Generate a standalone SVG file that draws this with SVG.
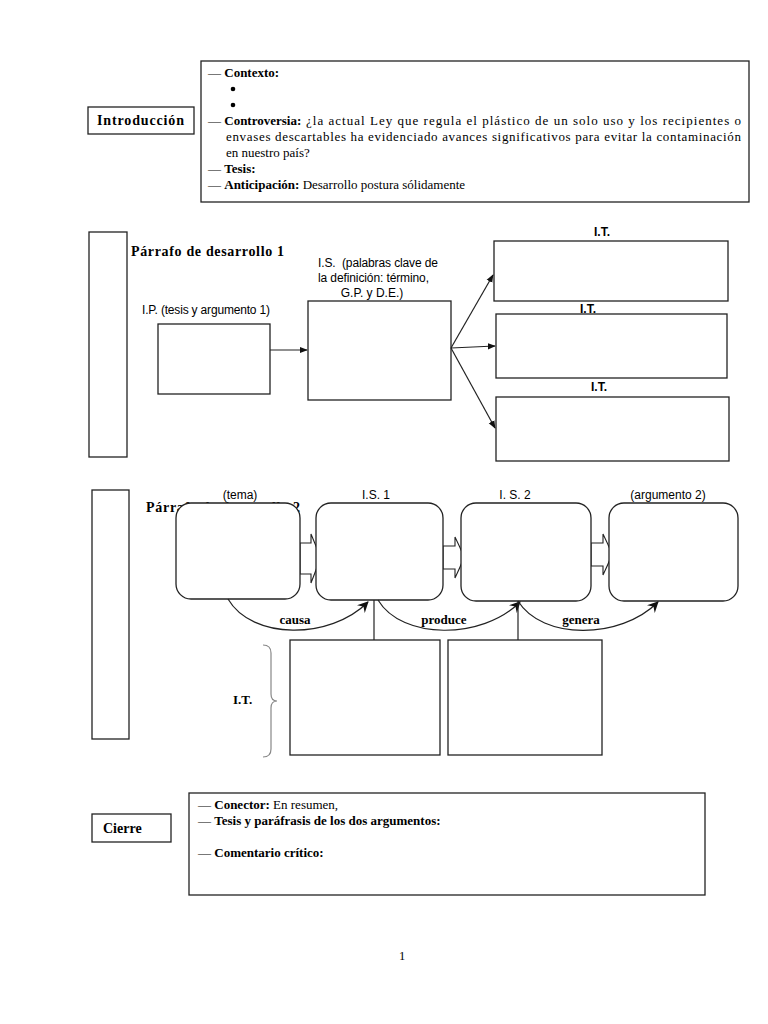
<svg xmlns="http://www.w3.org/2000/svg" width="768" height="1024" viewBox="0 0 768 1024">
<style>
.box{fill:#fff;stroke:#222;stroke-width:1.3}
.rbox{fill:#fff;stroke:#222;stroke-width:1.3}
.serif{font-family:"Liberation Serif","Times New Roman",serif;fill:#000}
.sans{font-family:"Liberation Sans",Arial,sans-serif;fill:#000}
.b{font-weight:bold}
.t{font-size:13px}
.lbl{font-size:12px}
.h{font-size:14px;font-weight:bold}
.ln{fill:none;stroke:#222;stroke-width:1.2}
.blk{fill:#fff;stroke:#222;stroke-width:1.1}
</style>
<defs>
<marker id="tri" viewBox="0 0 10 10" refX="9" refY="5" markerWidth="8" markerHeight="8" markerUnits="userSpaceOnUse" orient="auto">
<path d="M0,1 L10,5 L0,9 Z" fill="#111"/>
</marker>
<marker id="barb" viewBox="0 0 12 12" refX="11" refY="6" markerWidth="11" markerHeight="11" markerUnits="userSpaceOnUse" orient="auto">
<path d="M0,0 L12,6 L0,12 L4,6 Z" fill="#111"/>
</marker>
</defs>
<rect width="768" height="1024" fill="#fff"/>

<g id="introduccion">
<rect class="box" x="88" y="107" width="106" height="27"/>
<text class="serif h" x="97" y="125" textLength="87">Introducción</text>
</g>

<g id="intro-content">
<rect class="box" x="201" y="61" width="548" height="141"/>
<text class="serif t" x="208" y="77">— <tspan class="b">Contexto:</tspan></text>
<circle cx="233" cy="89" r="2.3" fill="#000"/>
<circle cx="233" cy="105" r="2.3" fill="#000"/>
<text class="serif t" x="208" y="125">— <tspan class="b">Controversia:</tspan></text>
<text class="serif t" x="306" y="125" textLength="435" lengthAdjust="spacing">¿la actual Ley que regula el plástico de un solo uso y los recipientes o</text>
<text class="serif t" x="226" y="141" textLength="515" lengthAdjust="spacing">envases descartables ha evidenciado avances significativos para evitar la contaminación</text>
<text class="serif t" x="226" y="157">en nuestro país?</text>
<text class="serif t" x="208" y="173">— <tspan class="b">Tesis:</tspan></text>
<text class="serif t" x="208" y="189">— <tspan class="b">Anticipación:</tspan> Desarrollo postura sólidamente</text>
</g>

<g id="parrafo1">
<rect class="box" x="89" y="232" width="38" height="225"/>
<text class="serif h" x="131" y="256" textLength="153">Párrafo de desarrollo 1</text>
</g>

<g id="ip">
<text class="sans lbl" x="142" y="314" textLength="128">I.P. (tesis y argumento 1)</text>
<rect class="box" x="158" y="324" width="112" height="70"/>
</g>

<g id="is">
<text class="sans lbl" x="318" y="267" textLength="120" xml:space="preserve">I.S.  (palabras clave de</text>
<text class="sans lbl" x="318" y="282" textLength="111">la definición: término,</text>
<text class="sans lbl" x="372" y="297" text-anchor="middle">G.P. y D.E.)</text>
<rect class="box" x="308" y="301" width="143" height="99"/>
</g>

<g id="it1">
<text class="sans lbl b" x="602" y="236" text-anchor="middle">I.T.</text>
<rect class="box" x="494" y="241" width="234" height="60"/>
</g>
<g id="it2">
<text class="sans lbl b" x="588" y="313" text-anchor="middle">I.T.</text>
<rect class="box" x="496" y="314" width="231" height="64"/>
</g>
<g id="it3">
<text class="sans lbl b" x="599" y="391" text-anchor="middle">I.T.</text>
<rect class="box" x="496" y="397" width="233" height="64"/>
</g>

<g id="parrafo2">
<rect class="box" x="92" y="490" width="37" height="249"/>
<text class="serif h" x="146" y="512" textLength="154">Párrafo de desarrollo 2</text>
</g>

<g id="block-arrows">
<path class="blk" d="M300,543 H311 V534 Q316,545 320,558 Q316,571 311,583 V574 H300 Z"/>
<path class="blk" d="M443,546 H455 V537 Q460,547 464,557 Q460,568 455,578 V569 H443 Z"/>
<path class="blk" d="M591,543 H603 V534 Q608,544 612,554 Q608,565 603,575 V566 H591 Z"/>
</g>

<g id="tema">
<text class="sans lbl" x="240" y="499" text-anchor="middle">(tema)</text>
<rect class="rbox" x="176" y="503" width="124" height="96" rx="15"/>
</g>
<g id="is1">
<text class="sans lbl" x="376" y="499" text-anchor="middle">I.S. 1</text>
<rect class="rbox" x="316" y="503" width="127" height="97" rx="15"/>
</g>
<g id="is2">
<text class="sans lbl" x="515" y="499" text-anchor="middle">I. S. 2</text>
<rect class="rbox" x="461" y="503" width="130" height="98" rx="15"/>
</g>
<g id="argumento2">
<text class="sans lbl" x="668" y="499" text-anchor="middle">(argumento 2)</text>
<rect class="rbox" x="609" y="503" width="129" height="98" rx="15"/>
</g>

<g id="it-a">
<rect class="box" x="290" y="640" width="150" height="115"/>
</g>
<g id="it-b">
<rect class="box" x="448" y="640" width="154" height="115"/>
</g>

<g id="it-brace">
<path d="M263,645 Q271,645 271,653 V694 Q271,701 277,701 Q271,701 271,708 V749 Q271,757 263,757" fill="none" stroke="#888" stroke-width="1.2"/>
<text class="serif b t" x="233" y="704">I.T.</text>
</g>

<g id="connectors">
<line class="ln" x1="270" y1="350" x2="307" y2="350" marker-end="url(#tri)"/>
<line class="ln" x1="451" y1="348" x2="493" y2="275" marker-end="url(#tri)"/>
<line class="ln" x1="451" y1="348" x2="495" y2="346" marker-end="url(#tri)"/>
<line class="ln" x1="451" y1="348" x2="495" y2="428" marker-end="url(#tri)"/>
<path class="ln" d="M228,599 C252,640 330,640 368,602" marker-end="url(#barb)"/>
<path class="ln" d="M378,600 C402,640 482,640 520,602" marker-end="url(#barb)"/>
<path class="ln" d="M518,601 C542,640 620,640 658,602" marker-end="url(#barb)"/>
<line class="ln" x1="374" y1="600" x2="374" y2="640"/>
<line class="ln" x1="518" y1="601" x2="518" y2="640"/>
<text class="serif b t" x="295" y="624" text-anchor="middle">causa</text>
<text class="serif b t" x="444" y="624" text-anchor="middle">produce</text>
<text class="serif b t" x="581" y="624" text-anchor="middle">genera</text>
</g>

<g id="cierre">
<rect class="box" x="92" y="814" width="79" height="28"/>
<text class="serif h" x="103" y="833">Cierre</text>
</g>

<g id="cierre-content">
<rect class="box" x="189" y="793" width="516" height="102"/>
<text class="serif t" x="198" y="809">— <tspan class="b">Conector:</tspan> En resumen,</text>
<text class="serif t" x="198" y="825">— <tspan class="b">Tesis y paráfrasis de los dos argumentos:</tspan></text>
<text class="serif t" x="198" y="857">— <tspan class="b">Comentario crítico:</tspan></text>
</g>

<text class="serif" x="402" y="960" font-size="12.5" text-anchor="middle">1</text>
</svg>
